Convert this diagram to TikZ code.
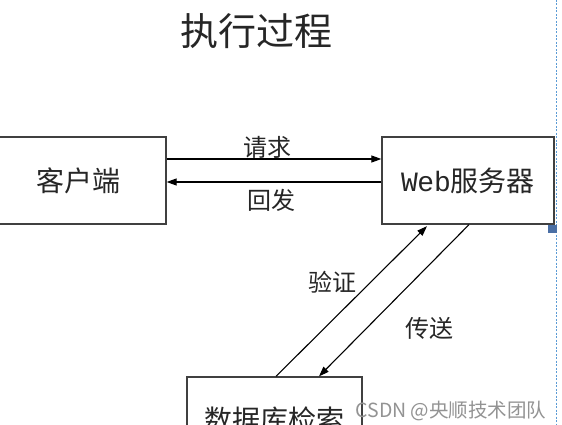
\documentclass[tikz,border=0pt]{standalone}
\usepackage{fontspec}
\setmainfont{Liberation Serif}
\newfontfamily\cjk{Noto Sans CJK SC}
\newfontfamily\monof{Liberation Mono}
\usetikzlibrary{arrows.meta,calc}
\definecolor{boxline}{HTML}{404040}
\definecolor{txt}{HTML}{262626}
\definecolor{guide}{HTML}{5B9BD5}
\definecolor{handle}{HTML}{4A6FA5}
\tikzset{
  box/.style={draw=boxline, line width=1.3pt, fill=white, inner sep=0pt, text=txt,
    font=\cjk\fontsize{28}{30}\selectfont},
  conn/.style={draw=black, line width=1.1pt, -{Triangle[length=10pt,width=7pt]}},
  lbl/.style={text=txt, font=\cjk\fontsize{24}{26}\selectfont, inner sep=0pt},
  ttl/.style={text=txt, font=\cjk\fontsize{38}{40}\selectfont, inner sep=0pt},
  wm/.style={text=gray!85, font=\cjk\fontsize{19.5}{21}\selectfont, inner sep=0pt}
}
\begin{document}
\begin{tikzpicture}[x=1pt,y=-1pt]
\useasboundingbox (0,0) rectangle (562,425);
\clip (0,0) rectangle (562,425);
\fill[white] (0,0) rectangle (562,425);
% title
\node[ttl] (title) at (256,31) {执行过程};
% boxes
\node[box, minimum width=176pt, minimum height=87pt] (client) at (78,180.5) {客户端};
\node[box, minimum width=172pt, minimum height=87pt] (web) at (468,180.5) {{\monof W\kern-0.5pt eb}服务器};
\node[box, minimum width=175pt, minimum height=86pt] (db) at (274.5,420) {数据库检索};
% connection points
\coordinate (c1) at ($(client.east)+(0,-21.5)$);
\coordinate (w1) at (c1 -| web.west);
\coordinate (c2) at ($(client.east)+(0,1.5)$);
\coordinate (w2) at (c2 -| web.west);
\coordinate (dbA) at ($(db.north)+(1.5,0)$);
\coordinate (webA) at ($(web.south)+(-41,1.5)$);
\coordinate (webB) at ($(web.south)+(1,0)$);
\coordinate (dbB) at ($(db.north)+(44.5,0)$);
% connectors
\draw[conn] (c1) -- (w1);
\draw[conn] (w2) -- (c2);
\draw[conn] (dbA) -- (webA);
\draw[conn] (webB) -- (dbB);
% labels
\node[lbl] (lq) at (267,147) {请求};
\node[lbl] (lh) at (271,200) {回发};
\node[lbl] (lv) at (332,282) {验证};
\node[lbl] (lc) at (429,328) {传送};
% guide line and handle
\draw[guide, line width=0.8pt, dash pattern=on 2pt off 1.5pt] (556,0) -- (556,425);
\fill[handle] (548,225) rectangle (557,233);
% watermark
\node[wm] (wmark) at (451,411) {CSDN @央顺技术团队};
\end{tikzpicture}
\end{document}
